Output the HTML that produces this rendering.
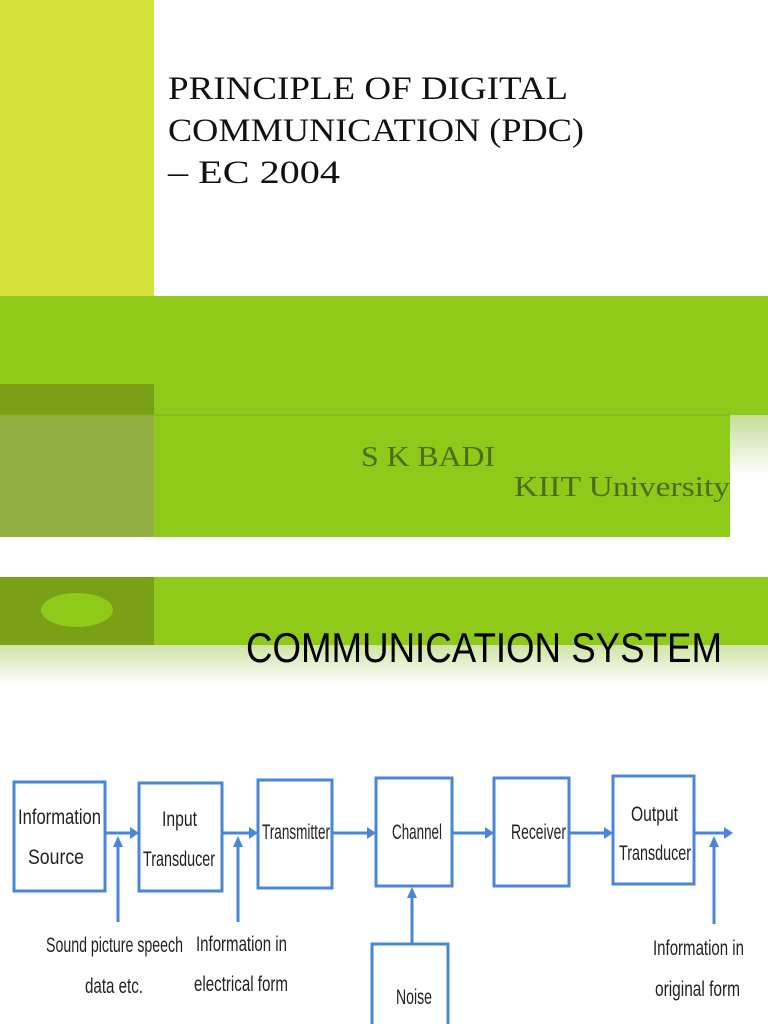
<!DOCTYPE html>
<html><head><meta charset="utf-8"><style>html,body{margin:0;padding:0;background:#fff}svg{display:block}</style></head>
<body>
<svg width="768" height="1024" viewBox="0 0 768 1024" xmlns="http://www.w3.org/2000/svg">
<defs>
<linearGradient id="g1" x1="0" y1="0" x2="0" y2="1"><stop offset="0" stop-color="#c4dc98"/><stop offset="1" stop-color="#ffffff"/></linearGradient>
<linearGradient id="g2" x1="0" y1="0" x2="0" y2="1"><stop offset="0" stop-color="#cfe3a6"/><stop offset="1" stop-color="#ffffff"/></linearGradient>
</defs>
<rect width="768" height="1024" fill="#fff"/>
<rect x="0" y="0" width="154" height="296" fill="#d4e23a"/>
<rect x="0" y="296" width="768" height="119" fill="#8fc919"/>
<rect x="0" y="384" width="154" height="31" fill="#79a016"/>
<rect x="730" y="415" width="38" height="60" fill="url(#g1)"/>
<rect x="0" y="415" width="730" height="122" fill="#8fc919"/>
<rect x="0" y="415" width="154" height="122" fill="#94b045"/>
<line x1="0" y1="415" x2="730" y2="415" stroke="#7fb11a" stroke-width="1"/>
<g font-family="Liberation Serif, serif" fill="#111">
<text x="168" y="99" font-size="33" textLength="400" lengthAdjust="spacingAndGlyphs">PRINCIPLE OF DIGITAL</text>
<text x="168" y="141" font-size="33" textLength="416" lengthAdjust="spacingAndGlyphs">COMMUNICATION (PDC)</text>
<text x="168" y="183" font-size="33" textLength="172" lengthAdjust="spacingAndGlyphs">– EC 2004</text>
</g>
<g font-family="Liberation Serif, serif" fill="#4a6d12" font-size="29">
<text x="361" y="466" textLength="134" lengthAdjust="spacingAndGlyphs">S K BADI</text>
<text x="514" y="496" textLength="216" lengthAdjust="spacingAndGlyphs">KIIT University</text>
</g>
<rect x="0" y="577" width="768" height="68" fill="#8fc919"/>
<rect x="0" y="577" width="154" height="68" fill="#79a016"/>
<ellipse cx="77" cy="610" rx="36" ry="17" fill="#8fc919"/>
<rect x="0" y="645" width="768" height="40" fill="url(#g2)"/>
<text x="246" y="662" font-family="Liberation Sans, sans-serif" font-size="42" fill="#000" textLength="476" lengthAdjust="spacingAndGlyphs">COMMUNICATION SYSTEM</text>
<g fill="none" stroke="#4a86d8" stroke-width="3">
<rect x="14" y="782" width="91" height="109"/>
<rect x="139" y="783" width="83" height="108"/>
<rect x="258" y="780" width="74" height="108"/>
<rect x="376" y="778" width="76" height="108"/>
<rect x="494" y="778" width="75" height="108"/>
<rect x="613" y="776" width="81" height="108"/>
<path d="M372 1026 V944 H448 V1026"/>
<line x1="105" y1="833" x2="132" y2="833"/>
<line x1="222" y1="833" x2="251" y2="833"/>
<line x1="332" y1="833" x2="369" y2="833"/>
<line x1="452" y1="833" x2="487" y2="833"/>
<line x1="569" y1="833" x2="606" y2="833"/>
<line x1="694" y1="833" x2="724" y2="833"/>
<line x1="118" y1="922" x2="118" y2="846"/>
<line x1="238" y1="922" x2="238" y2="846"/>
<line x1="412" y1="943" x2="412" y2="898"/>
<line x1="714" y1="924" x2="714" y2="846"/>
</g>
<g fill="#4a86d8">
<path d="M139 833 l-9 -6 v12z"/>
<path d="M258 833 l-9 -6 v12z"/>
<path d="M376 833 l-9 -6 v12z"/>
<path d="M494 833 l-9 -6 v12z"/>
<path d="M613 833 l-9 -6 v12z"/>
<path d="M733 833 l-9 -6 v12z"/>
<path d="M118 836 l-5 11 h10z"/>
<path d="M238 836 l-5 11 h10z"/>
<path d="M412 887 l-5 11 h10z"/>
<path d="M714 836 l-5 11 h10z"/>
</g>
<g font-family="Liberation Sans, sans-serif" font-size="21" fill="#222">
<text x="18" y="824" textLength="83" lengthAdjust="spacingAndGlyphs">Information</text>
<text x="28" y="864" textLength="56" lengthAdjust="spacingAndGlyphs">Source</text>
<text x="162" y="826" textLength="35" lengthAdjust="spacingAndGlyphs">Input</text>
<text x="143" y="866" textLength="72" lengthAdjust="spacingAndGlyphs">Transducer</text>
<text x="262" y="839" textLength="68" lengthAdjust="spacingAndGlyphs">Transmitter</text>
<text x="392" y="839" textLength="50" lengthAdjust="spacingAndGlyphs">Channel</text>
<text x="511" y="839" textLength="55" lengthAdjust="spacingAndGlyphs">Receiver</text>
<text x="631" y="821" textLength="47" lengthAdjust="spacingAndGlyphs">Output</text>
<text x="619" y="860" textLength="72" lengthAdjust="spacingAndGlyphs">Transducer</text>
<text x="396" y="1004" textLength="36" lengthAdjust="spacingAndGlyphs">Noise</text>
<text x="46" y="952" textLength="137" lengthAdjust="spacingAndGlyphs">Sound picture speech</text>
<text x="85" y="993" textLength="58" lengthAdjust="spacingAndGlyphs">data etc.</text>
<text x="196" y="951" textLength="91" lengthAdjust="spacingAndGlyphs">Information in</text>
<text x="194" y="991" textLength="94" lengthAdjust="spacingAndGlyphs">electrical form</text>
<text x="653" y="955" textLength="91" lengthAdjust="spacingAndGlyphs">Information in</text>
<text x="655" y="996" textLength="85" lengthAdjust="spacingAndGlyphs">original form</text>
</g>
</svg>
</body></html>
